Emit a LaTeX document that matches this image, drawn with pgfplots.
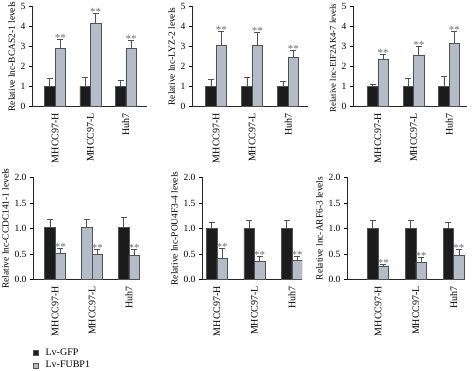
\documentclass[border=0pt]{standalone}
\usepackage{fontspec}
\setmainfont{Liberation Serif}
\usepackage{pgfplots}
\pgfplotsset{compat=1.18}
\definecolor{barblack}{RGB}{28,28,28}
\definecolor{bargrey}{RGB}{180,188,200}
\definecolor{baredge}{RGB}{80,82,86}
\definecolor{starcol}{RGB}{105,110,118}
\pgfplotsset{
  panel/.style={
    scale only axis,
    anchor=south west,
    ybar,
    bar width=10.5pt,
    axis x line*=bottom,
    axis y line*=left,
    enlargelimits=false,
    ymin=0,
    xtick={0,1,2},
    xticklabels={MHCC97-H,MHCC97-L,Huh7},
    xticklabel style={rotate=90,anchor=east,font=\fontsize{10}{11}\selectfont},
    yticklabel style={font=\fontsize{9.5}{11}\selectfont},
    ylabel style={font=\fontsize{9.4}{11}\selectfont,yshift=-1pt},
    x tick style={draw=none},
    y tick style={black,line width=0.5pt},
    tick align=outside,
    major tick length=3pt,
    axis line style={black!85,line width=0.6pt},
    /pgf/number format/assume math mode=true,
    error bars/y dir=plus,
    error bars/y explicit,
    error bars/error bar style={baredge,line width=0.7pt},
    error bars/error mark options={baredge,line width=0.7pt,mark size=3pt,rotate=90},
    legend image code/.code={\draw[##1,line width=0.4pt] (0pt,-2.5pt) rectangle (5pt,2.5pt);},
  },
  top/.style={panel,height=100pt,ymax=5,ytick={0,1,2,3,4,5}},
  bot/.style={panel,height=102pt,ymax=2,ytick={0,0.5,1,1.5,2},
    yticklabel style={/pgf/number format/fixed,/pgf/number format/fixed zerofill,/pgf/number format/precision=1}},
  blk/.style={fill=barblack,draw=baredge,line width=0.4pt,bar shift=-5.25pt},
  gry/.style={fill=bargrey,draw=baredge,line width=0.4pt,bar shift=5.25pt},
  stars/.style={draw=none,fill=none,bar shift=5.25pt,forget plot,
    nodes near coords={**},
    every node near coord/.style={font=\fontsize{11}{12}\selectfont,text=starcol,inner sep=0pt,anchor=south,xshift=5.25pt,yshift=-2.5pt}},
}
\begin{document}
\begin{tikzpicture}
\useasboundingbox (0,0) rectangle (474pt,371pt);
% Panel 1
\begin{axis}[top, at={(32pt,264.5pt)}, width=115pt, xmin=-0.65, xmax=2.6,
  ylabel={Relative lnc-BCAS2-1 levels}]
\addplot[blk] coordinates {(0,1.0) +- (0,0.40) (1,1.0) +- (0,0.45) (2,1.0) +- (0,0.33)};
\addplot[gry] coordinates {(0,2.9) +- (0,0.47) (1,4.15) +- (0,0.50) (2,2.9) +- (0,0.40)};
\addplot[stars] coordinates {(0,3.37) (1,4.65) (2,3.30)};
\end{axis}
% Panel 2
\begin{axis}[top, at={(192pt,264.5pt)}, width=116pt, xmin=-0.67, xmax=2.55,
  ylabel={Relative lnc-LYZ-2 levels}]
\addplot[blk] coordinates {(0,1.0) +- (0,0.38) (1,1.0) +- (0,0.45) (2,1.0) +- (0,0.28)};
\addplot[gry] coordinates {(0,3.05) +- (0,0.73) (1,3.05) +- (0,0.67) (2,2.45) +- (0,0.35)};
\addplot[stars] coordinates {(0,3.78) (1,3.72) (2,2.80)};
\end{axis}
% Panel 3
\begin{axis}[top, at={(353pt,264.5pt)}, width=114pt, xmin=-0.7, xmax=2.5,
  ylabel={Relative lnc-EIF2AK4-7 levels},
  ylabel style={font=\fontsize{8.7}{10}\selectfont,xshift=-1.5pt}]
\addplot[blk] coordinates {(0,1.0) +- (0,0.12) (1,1.0) +- (0,0.42) (2,1.0) +- (0,0.50)};
\addplot[gry] coordinates {(0,2.38) +- (0,0.25) (1,2.58) +- (0,0.42) (2,3.15) +- (0,0.63)};
\addplot[stars] coordinates {(0,2.63) (1,3.00) (2,3.78)};
\end{axis}
% Panel 4
\begin{axis}[bot, at={(33pt,91.5pt)}, width=107pt, xmin=-0.6, xmax=2.3,
  ylabel={Relative lnc-CCDC141-1 levels},
  legend style={at={(0.0,-0.67)},anchor=north west,draw=none,fill=none,
    font=\fontsize{10}{11}\selectfont,row sep=2pt,inner sep=0pt,
    nodes={inner sep=1pt},column sep=6pt},
  legend cell align=left]
\addplot[blk] coordinates {(0,1.02) +- (0,0.15) (2,1.02) +- (0,0.19)};
\addlegendentry{Lv-GFP}
\addplot[gry] coordinates {(0,0.52) +- (0,0.10) (1,0.49) +- (0,0.11) (2,0.47) +- (0,0.13)};
\addlegendentry{Lv-FUBP1}
\addplot[gry,bar shift=-5.25pt,forget plot] coordinates {(1,1.02) +- (0,0.16)};
\addplot[stars] coordinates {(0,0.62) (1,0.60) (2,0.60)};
\end{axis}
% Panel 5
\begin{axis}[bot, at={(202pt,91.5pt)}, width=100pt, xmin=-0.4, xmax=2.27,
  ylabel={Relative lnc-POU4F3-4 levels}]
\addplot[blk] coordinates {(0,1.0) +- (0,0.13) (1,1.0) +- (0,0.15) (2,1.0) +- (0,0.16)};
\addplot[gry] coordinates {(0,0.42) +- (0,0.19) (1,0.36) +- (0,0.09) (2,0.37) +- (0,0.09)};
\addplot[stars] coordinates {(0,0.61) (1,0.45) (2,0.46)};
\end{axis}
% Panel 6
\begin{axis}[bot, at={(347pt,91.5pt)}, width=118pt, xmin=-0.82, xmax=2.3,
  ylabel={Relative lnc-ARF6-3 levels}]
\addplot[blk] coordinates {(0,1.0) +- (0,0.16) (1,1.0) +- (0,0.15) (2,1.0) +- (0,0.13)};
\addplot[gry] coordinates {(0,0.27) +- (0,0.03) (1,0.33) +- (0,0.11) (2,0.48) +- (0,0.11)};
\addplot[stars] coordinates {(0,0.30) (1,0.44) (2,0.59)};
\end{axis}
\end{tikzpicture}
\end{document}
